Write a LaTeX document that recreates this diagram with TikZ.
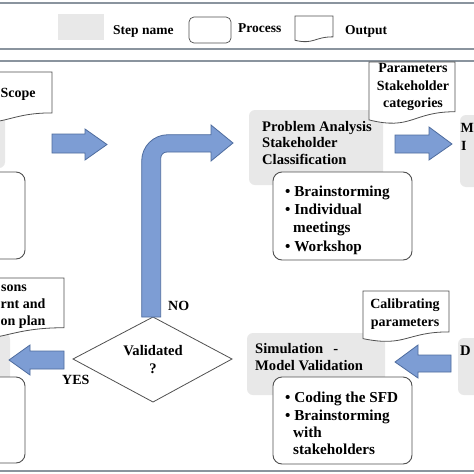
\documentclass[tikz,border=0pt]{standalone}
\usepackage{fontspec}
\setmainfont{Liberation Serif}
\definecolor{stepgray}{HTML}{E8E8E8}
\definecolor{boxline}{HTML}{505050}
\definecolor{arrowblue}{HTML}{7D9DD4}
\definecolor{arrowline}{HTML}{4E6C9E}
\definecolor{framegray}{HTML}{8A949E}
\tikzset{
  stepbox/.style={fill=stepgray, rounded corners=6pt, draw=none, inner sep=0pt},
  procbox/.style={draw=boxline, fill=white, rounded corners=9pt, line width=0.9pt, inner sep=0pt},
  docbox/.style={draw=boxline, fill=white, line width=0.8pt},
  blockarrow/.style={fill=arrowblue, draw=arrowline, line width=0.8pt, line join=miter},
  lbl/.style={font=\fontsize{14}{16.5}\selectfont\bfseries, inner sep=0pt},
  steplbl/.style={font=\fontsize{14.6}{16.5}\selectfont\bfseries, inner sep=0pt},
  bullbl/.style={font=\fontsize{15.2}{18}\selectfont\bfseries, inner sep=0pt},
  leg/.style={font=\fontsize{13.5}{16}\selectfont\bfseries, inner sep=0pt},
  frameline/.style={draw=framegray, line width=1.1pt},
}
% document shape: x0, y0 (top), x1, y1 (full height)
\newcommand{\docshape}[4]{%
  \draw[docbox] (#1,#2) -- (#3,#2) -- (#3,{#2+0.802*(#4-#2)})
    .. controls ({(#1+#3)/2},{#2+0.802*(#4-#2)}) and ({(#1+#3)/2},{#2+1.107*(#4-#2)}) ..
    (#1,{#2+0.934*(#4-#2)}) -- cycle;}
\begin{document}
\begin{tikzpicture}[x=1pt,y=-1pt]
\useasboundingbox (0,0) rectangle (474,474);
\clip (0,0) rectangle (474,474);
\fill[white] (0,0) rectangle (474,474);

% frame lines
\draw[frameline] (-5,3) -- (480,3);
\draw[frameline] (-5,49) -- (480,49);
\draw[frameline] (-5,61) -- (480,61);
\draw[frameline] (-5,471) -- (480,471);

% legend
\node[stepbox, rounded corners=0pt, minimum width=46pt, minimum height=26pt] (legstep) at (81,27) {};
\node[leg, anchor=base west] (legsteptxt) at (113,34) {Step name};
\node[procbox, rounded corners=5pt, line width=0.7pt, minimum width=42pt, minimum height=26pt] (legproc) at (210,30) {};
\node[leg, anchor=base west] (legproctxt) at (238,32) {Process};
\docshape{295}{16}{333}{42}
\node[leg, anchor=base west] (legouttxt) at (345,34) {Output};

% step boxes
\node[stepbox, minimum width=65pt, minimum height=58pt] (sA) at (-27.5,139) {};
\node[stepbox, minimum width=134pt, minimum height=75pt] (sPA) at (316,147.5) {};
\node[stepbox, minimum width=80pt, minimum height=72pt] (sM) at (500,151) {};
\node[stepbox, minimum width=82pt, minimum height=57pt] (sD) at (499,366.5) {};
\node[stepbox, minimum width=138pt, minimum height=62pt] (sSim) at (316,364) {};
\node[stepbox, minimum width=90pt, minimum height=62pt] (sL) at (-35,364) {};

% output documents
\docshape{-40}{72}{52}{123}
\docshape{369}{62}{455}{124}
\docshape{363}{291}{449}{342}
\docshape{-60}{278}{64}{340}

% process boxes
\node[procbox, minimum width=85pt, minimum height=87pt] (pA) at (-17.5,215.5) {};
\node[procbox, minimum width=139pt, minimum height=88pt] (pPA) at (342.5,216) {};
\node[procbox, minimum width=139pt, minimum height=87pt] (pSim) at (342.5,420.5) {};
\node[procbox, minimum width=85pt, minimum height=86pt] (pL) at (-17.5,420) {};

% decision
\draw[draw=boxline, fill=white, line width=0.8pt] (73,359) coordinate (dl) -- (153,317) coordinate (dt) -- (232,359) coordinate (dr) -- (153,402) coordinate (db) -- cycle;

% block arrows
\draw[blockarrow] (52,134) -- (85,134) -- (85,129) -- (107,144.5) -- (85,160) -- (85,153) -- (52,153) -- cycle;
\draw[blockarrow] (141.7,317) -- (141.7,161)
  .. controls (141.7,146.5) and (153.3,134.7) .. (168,134.7)
  -- (211,134.7) -- (211,125) -- (233,143) -- (211,161) -- (211,152) -- (167,152)
  .. controls (163.4,152) and (160.7,154.7) .. (160.7,158.5)
  -- (160.7,317) -- cycle;
\draw[blockarrow] (395,135) -- (429,135) -- (429,127) -- (452,144) -- (429,160) -- (429,153) -- (395,153) -- cycle;
\draw[blockarrow] (451,355) -- (418,355) -- (418,345) -- (395,362) -- (418,378) -- (418,372) -- (451,372) -- cycle;
\draw[blockarrow] (64,351) -- (30,351) -- (30,345) -- (9,360) -- (30,375) -- (30,369) -- (64,369) -- cycle;

% texts
\node[lbl, anchor=base west] (tScope) at (0.5,97) {Scope};
\node[lbl, anchor=base] (tPar1) at (413,72) {Parameters};
\node[lbl, anchor=base] (tPar2) at (413,90) {Stakeholder};
\node[lbl, anchor=base] (tPar3) at (413,107.5) {categories};

\node[steplbl, anchor=base west] (tPA1) at (262,131) {Problem Analysis};
\node[steplbl, anchor=base west] (tPA2) at (262,147.5) {Stakeholder};
\node[steplbl, anchor=base west] (tPA3) at (262,164) {Classification};

\node[bullbl, anchor=base west] (b1) at (285,196.5) {\textbullet\ Brainstorming};
\node[bullbl, anchor=base west] (b2) at (285,214.5) {\textbullet\ Individual};
\node[bullbl, anchor=base west] (b3) at (293,232) {meetings};
\node[bullbl, anchor=base west] (b4) at (285,251) {\textbullet\ Workshop};

\node[lbl, anchor=base west] (tM1) at (460.5,132) {M};
\node[lbl, anchor=base west] (tM2) at (461,150) {I};

\node[lbl, anchor=base] (tCal1) at (405,308) {Calibrating};
\node[lbl, anchor=base] (tCal2) at (405,326) {parameters};
\node[steplbl, anchor=base west] (tD) at (460,355) {D};

\node[steplbl, anchor=base west] (tSim1) at (255,353) {Simulation\hspace{10pt}-};
\node[steplbl, anchor=base west] (tSim2) at (255,370) {Model Validation};
\node[bullbl, anchor=base west] (c1) at (285,402) {\textbullet\ Coding the SFD};
\node[bullbl, anchor=base west] (c2) at (285,420) {\textbullet\ Brainstorming};
\node[bullbl, anchor=base west] (c3) at (293,437) {with};
\node[bullbl, anchor=base west] (c4) at (293,454) {stakeholders};

\node[steplbl, anchor=base] (tV1) at (153,355) {Validated};
\node[steplbl, anchor=base] (tV2) at (153,373) {?};
\node[lbl, anchor=base west] (tNO) at (168,310) {NO};
\node[lbl, anchor=base west] (tYES) at (62,384) {YES};

\node[lbl, anchor=base east] (tL1) at (27,291) {sons};
\node[lbl, anchor=base west] (tL2) at (0.5,308) {rnt and};
\node[lbl, anchor=base west] (tL3) at (0.5,325.5) {on plan};
\end{tikzpicture}
\end{document}
